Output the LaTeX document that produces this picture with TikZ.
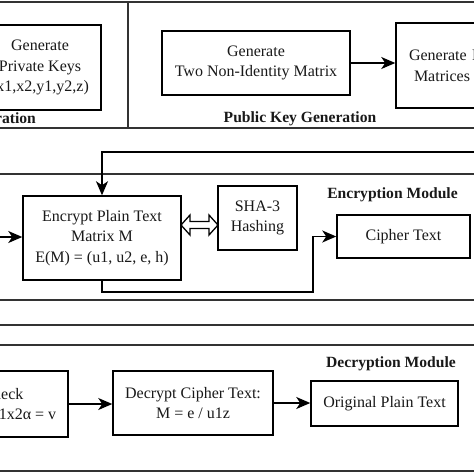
\documentclass[tikz,border=0pt]{standalone}
\usepackage{fontspec}
\setmainfont{Liberation Serif}
\usetikzlibrary{arrows.meta}
\begin{document}
\begin{tikzpicture}[x=1pt,y=-1pt,
  box/.style={draw=black, line width=1.5pt, fill=white, inner sep=0pt, align=center,
    font=\fontsize{16}{20.5}\selectfont, text=black!90},
  panel/.style={draw=black!80, line width=2pt},
  lbl/.style={font=\fontsize{15.6}{18}\selectfont\bfseries, inner sep=0pt, text=black!90},
  arr/.style={line width=1.6pt, -{Stealth[length=14pt,width=12pt,inset=4pt]}},
  conn/.style={line width=1.6pt}]
\useasboundingbox (0,0) rectangle (474,474);
\clip (0,0) rectangle (474,474);
% panels
\draw[panel] (-300,2) rectangle (600,128);
\draw[panel] (128,2) -- (128,128);
\draw[panel] (-300,174) rectangle (600,300);
\draw[panel] (-300,325) -- (600,325);
\draw[panel] (-300,345) rectangle (600,471);
% key generation
\node[box, minimum width=122pt, minimum height=85pt] (privk) at (40,67.5)
  {Generate\\Private Keys\\(x1,x2,y1,y2,z)};
\node[box, minimum width=188pt, minimum height=64pt] (nonid) at (256,63)
  {Generate\\Two Non-Identity Matrix};
\node[box, minimum height=85pt, text width=160pt, inner xsep=13pt, align=left] (genp) at (489,65.5)
  {Generate Public Key\\\hspace*{5pt}Matrices};
\node[lbl, anchor=base east] (lprv) at (36,123) {Private Key Generation};
\node[lbl, anchor=base] (lpub) at (300,122) {Public Key Generation};
\draw[arr] (nonid.east) -- (nonid.east -| genp.west);
% encryption
\node[box, minimum width=158pt, minimum height=84pt] (enc) at (102,238)
  {Encrypt Plain Text\\Matrix M\\E(M) = (u1, u2, e, h)};
\node[box, minimum width=79pt, minimum height=64pt] (sha) at (257.5,218)
  {SHA-3\\Hashing};
\node[box, minimum width=133pt, minimum height=43pt] (cipher) at (403.5,236.5)
  {Cipher Text};
\node[lbl, anchor=base] (lenc) at (392.5,198) {Encryption Module};
\coordinate (fb) at (490,152);
\coordinate (inl) at (-5,237);
\coordinate (turn) at (313,292);
\draw[arr] (fb) -| (enc.north);
\draw[arr] (inl) -- (inl -| enc.west);
\draw[arr] (enc.south) |- (turn) |- (cipher.west);
\draw[line width=1.3pt, fill=white, line join=miter]
  (181,225) -- (190,215) -- (190,221.5) -- (209,221.5) -- (209,215) -- (218,225)
  -- (209,235) -- (209,228.5) -- (190,228.5) -- (190,235) -- cycle;
% decryption
\node[box, minimum width=130pt, minimum height=66pt] (check) at (3,404)
  {Check\\u1x1+u1x2α = v};
\node[box, minimum width=160pt, minimum height=64pt] (decr) at (193,403)
  {Decrypt Cipher Text:\\M = e / u1z};
\node[box, minimum width=147pt, minimum height=45pt] (orig) at (384.5,403.5)
  {Original Plain Text};
\node[lbl, anchor=base] (ldec) at (391,367) {Decryption Module};
\draw[arr] (check.east) -- (check.east -| decr.west);
\draw[arr] (decr.east) -- (decr.east -| orig.west);
\end{tikzpicture}
\end{document}
